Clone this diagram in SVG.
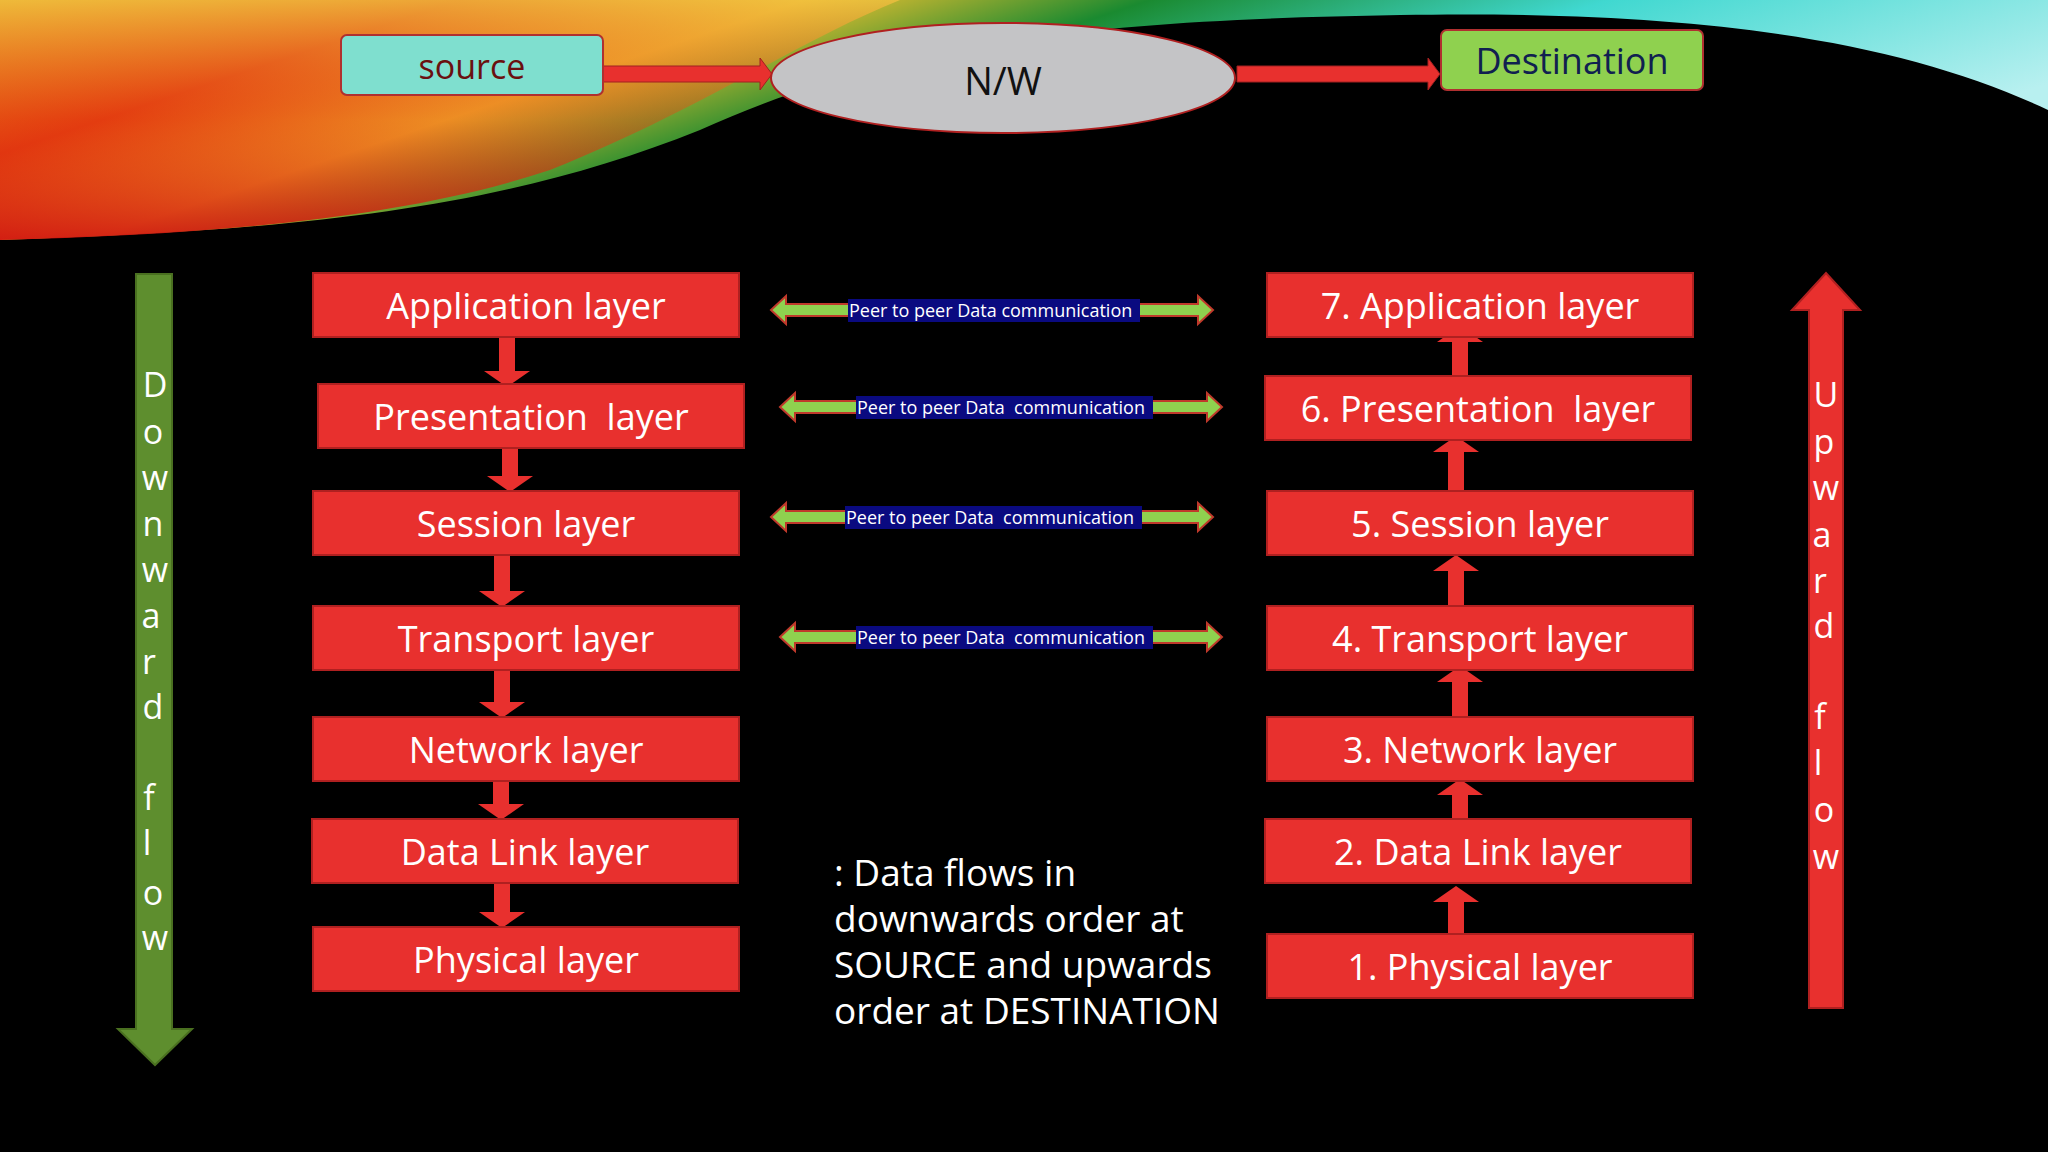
<svg xmlns="http://www.w3.org/2000/svg" width="2048" height="1152" viewBox="0 0 2048 1152">
<defs>
<linearGradient id="bg" x1="0" y1="0" x2="1" y2="0.35">
<stop offset="0" stop-color="#e8a020"/>
<stop offset="0.2" stop-color="#e03a10"/>
<stop offset="0.35" stop-color="#f0c030"/>
<stop offset="0.5" stop-color="#1a8a30"/>
<stop offset="0.7" stop-color="#40d8d0"/>
<stop offset="1" stop-color="#b8f0f0"/>
</linearGradient>
<linearGradient id="bg2" x1="0" y1="0" x2="0" y2="1">
<stop offset="0" stop-color="#f0c040" stop-opacity="0.8"/>
<stop offset="0.5" stop-color="#e84010" stop-opacity="0.4"/>
<stop offset="1" stop-color="#d01010" stop-opacity="0.9"/>
</linearGradient>
<style>
.box{fill:#e8302e;stroke:#b02020;stroke-width:2}
.bt{font-family:"Open Sans","Noto Sans",sans-serif;font-size:36px;fill:#fff;text-anchor:middle;dominant-baseline:central}
.va{fill:#e8302e}
.vl{font-family:"Open Sans","Noto Sans",sans-serif;font-size:34px;text-anchor:middle}
.peer{fill:#8fd14f;stroke:#c0392b;stroke-width:2}
.pl{font-family:"Open Sans","Noto Sans",sans-serif;font-size:18px;fill:#fff}
.note{font-family:"Open Sans","Noto Sans",sans-serif;font-size:37px;fill:#fff}
</style>
</defs>
<rect width="2048" height="1152" fill="#000"/>
<path d="M0,0 H2048 V110 C1900,40 1700,10 1400,15 C1100,20 900,40 700,130 C500,210 300,230 0,240 Z" fill="url(#bg)"/>
<path d="M0,0 H900 C800,40 700,110 550,170 C400,220 200,235 0,240 Z" fill="url(#bg2)"/>

<g id="connectors">
<path d="M603,66 H760 V58 L772,74 L760,90 V82 H603 Z" fill="#e8302e" stroke="#a02020" stroke-width="1"/>
<path d="M1237,66 H1428 V58 L1440,74 L1428,90 V82 H1237 Z" fill="#e8302e" stroke="#a02020" stroke-width="1"/>
<g class="va">
<path d="M499,337 h16 v34 h15 l-23,16 l-23,-16 h15z"/>
<path d="M502,448 h16 v28 h15 l-23,16 l-23,-16 h15z"/>
<path d="M494,555 h16 v36 h15 l-23,16 l-23,-16 h15z"/>
<path d="M494,670 h16 v32 h15 l-23,16 l-23,-16 h15z"/>
<path d="M493,781 h16 v23 h15 l-23,16 l-23,-16 h15z"/>
<path d="M494,883 h16 v29 h15 l-23,16 l-23,-16 h15z"/>
<path d="M1452,376 h16 v-34 h15 l-23,-16 l-23,16 h15z"/>
<path d="M1448,491 h16 v-39 h15 l-23,-16 l-23,16 h15z"/>
<path d="M1448,606 h16 v-35 h15 l-23,-16 l-23,16 h15z"/>
<path d="M1452,717 h16 v-35 h15 l-23,-16 l-23,16 h15z"/>
<path d="M1452,819 h16 v-24 h15 l-23,-16 l-23,16 h15z"/>
<path d="M1448,934 h16 v-32 h15 l-23,-16 l-23,16 h15z"/>
</g>
<g id="peers">
<path class="peer" d="M771,310 l15,-14 v8 h412 v-8 l15,14 l-15,14 v-8 h-412 v8 z"/>
<rect x="848" y="299" width="292" height="23" fill="#0a0a80"/>
<text class="pl" x="849" y="317">Peer to peer Data communication</text>
<path class="peer" d="M780,407 l15,-14 v8 h412 v-8 l15,14 l-15,14 v-8 h-412 v8 z"/>
<rect x="856" y="396" width="297" height="23" fill="#0a0a80"/>
<text class="pl" x="857" y="414" xml:space="preserve">Peer to peer Data  communication</text>
<path class="peer" d="M771,517 l15,-14 v8 h412 v-8 l15,14 l-15,14 v-8 h-412 v8 z"/>
<rect x="845" y="506" width="297" height="23" fill="#0a0a80"/>
<text class="pl" x="846" y="524" xml:space="preserve">Peer to peer Data  communication</text>
<path class="peer" d="M780,637 l15,-14 v8 h412 v-8 l15,14 l-15,14 v-8 h-412 v8 z"/>
<rect x="856" y="626" width="297" height="23" fill="#0a0a80"/>
<text class="pl" x="857" y="644" xml:space="preserve">Peer to peer Data  communication</text>
</g>
</g>

<g id="source"><rect x="341" y="35" width="262" height="60" rx="6" fill="#7fdfcf" stroke="#b03030" stroke-width="2"/><text x="472" y="66" font-family="Open Sans,Noto Sans,sans-serif" font-size="34" fill="#6a1010" text-anchor="middle" dominant-baseline="central">source</text></g>
<g id="nw"><ellipse cx="1003" cy="78" rx="232" ry="55" fill="#c4c4c6" stroke="#b02020" stroke-width="2"/><text x="1003" y="80" font-family="Open Sans,Noto Sans,sans-serif" font-size="38" fill="#111" text-anchor="middle" dominant-baseline="central">N/W</text></g>
<g id="destination"><rect x="1441" y="30" width="262" height="60" rx="6" fill="#8fd14f" stroke="#b03030" stroke-width="2"/><text x="1572" y="60" font-family="Open Sans,Noto Sans,sans-serif" font-size="36" fill="#102050" text-anchor="middle" dominant-baseline="central">Destination</text></g>

<g id="left-layers">
<g id="l7"><rect class="box" x="313" y="273" width="426" height="64"/><text class="bt" x="526" y="305">Application layer</text></g>
<g id="l6"><rect class="box" x="318" y="384" width="426" height="64"/><text class="bt" x="531" y="416" xml:space="preserve">Presentation  layer</text></g>
<g id="l5"><rect class="box" x="313" y="491" width="426" height="64"/><text class="bt" x="526" y="523">Session layer</text></g>
<g id="l4"><rect class="box" x="313" y="606" width="426" height="64"/><text class="bt" x="526" y="638">Transport layer</text></g>
<g id="l3"><rect class="box" x="313" y="717" width="426" height="64"/><text class="bt" x="526" y="749">Network layer</text></g>
<g id="l2"><rect class="box" x="312" y="819" width="426" height="64"/><text class="bt" x="525" y="851">Data Link layer</text></g>
<g id="l1"><rect class="box" x="313" y="927" width="426" height="64"/><text class="bt" x="526" y="959">Physical layer</text></g>
</g>
<g id="right-layers">
<g id="r7"><rect class="box" x="1267" y="273" width="426" height="64"/><text class="bt" x="1480" y="305">7. Application layer</text></g>
<g id="r6"><rect class="box" x="1265" y="376" width="426" height="64"/><text class="bt" x="1478" y="408" xml:space="preserve">6. Presentation  layer</text></g>
<g id="r5"><rect class="box" x="1267" y="491" width="426" height="64"/><text class="bt" x="1480" y="523">5. Session layer</text></g>
<g id="r4"><rect class="box" x="1267" y="606" width="426" height="64"/><text class="bt" x="1480" y="638">4. Transport layer</text></g>
<g id="r3"><rect class="box" x="1267" y="717" width="426" height="64"/><text class="bt" x="1480" y="749">3. Network layer</text></g>
<g id="r2"><rect class="box" x="1265" y="819" width="426" height="64"/><text class="bt" x="1478" y="851">2. Data Link layer</text></g>
<g id="r1"><rect class="box" x="1267" y="934" width="426" height="64"/><text class="bt" x="1480" y="966">1. Physical layer</text></g>
</g>

<g id="downward-flow">
<path d="M136,274 h36 v755 h20 l-37,36 l-37,-36 h18 z" fill="#5e8e2e" stroke="#4a7020" stroke-width="2"/>
<g class="vl" fill="#fff">
<text x="155" y="397">D</text><text x="153" y="444">o</text><text x="155" y="490">w</text><text x="153" y="536">n</text><text x="155" y="582">w</text><text x="151" y="628">a</text><text x="149" y="674">r</text><text x="153" y="719">d</text><text x="149" y="810">f</text><text x="147" y="855">l</text><text x="153" y="905">o</text><text x="155" y="950">w</text>
</g>
</g>
<g id="upward-flow">
<path d="M1809,1008 v-698 h-17 l34,-37 l34,37 h-17 v698 z" fill="#e8302e" stroke="#b02020" stroke-width="2"/>
<g class="vl" fill="#fff">
<text x="1826" y="407">U</text><text x="1824" y="454">p</text><text x="1826" y="500">w</text><text x="1822" y="547">a</text><text x="1820" y="593">r</text><text x="1824" y="638">d</text><text x="1820" y="729">f</text><text x="1818" y="775">l</text><text x="1824" y="822">o</text><text x="1826" y="869">w</text>
</g>
</g>

<g id="note" class="note">
<text x="834" y="886">: Data flows in</text>
<text x="834" y="932">downwards order at</text>
<text x="834" y="978">SOURCE and upwards</text>
<text x="834" y="1024">order at DESTINATION</text>
</g>
</svg>
